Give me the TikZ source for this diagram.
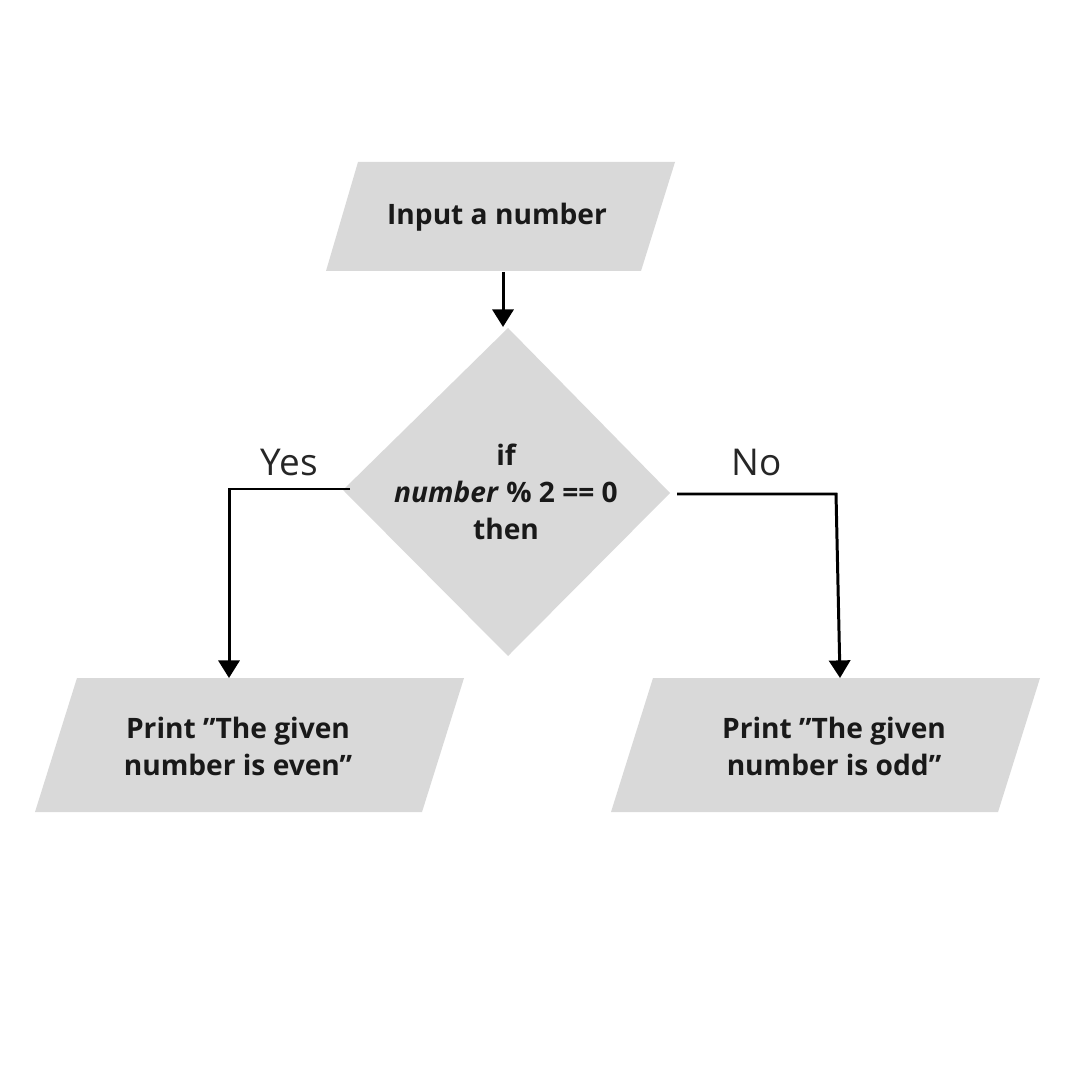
\documentclass[tikz,border=0pt]{standalone}
\usepackage{fontspec}
\setmainfont{Open Sans}
\usetikzlibrary{arrows.meta}
\begin{document}
\begin{tikzpicture}[x=0.01cm,y=-0.01cm,
  shapefill/.style={fill=black!15,draw=none},
  lbl/.style={font=\bfseries\fontsize{8}{10.5}\selectfont,align=center,text=black!90},
  yn/.style={font=\fontsize{10.5}{12}\selectfont,text=black!85},
  conn/.style={line width=0.85pt,-{Triangle[length=5pt,width=6pt]}}]
\useasboundingbox (0,0) rectangle (1080,1080);
\fill[white] (0,0) rectangle (1080,1080);
% shapes
\fill[shapefill] (358,162) -- (675,162) -- (641,271) -- (326,271) -- cycle;
\fill[shapefill] (508,328) -- (670,493) -- (508,656) -- (343,490) -- cycle;
\fill[shapefill] (77,678) -- (464,678) -- (422,812) -- (35,812) -- cycle;
\fill[shapefill] (653,678) -- (1040,678) -- (998,812) -- (611,812) -- cycle;
% texts
\node[lbl] (inp) at (497,217) {Input a number};
\node[lbl] (cond) at (506,492) {if\\\textit{number} \% 2 == 0\\then};
\node[lbl] (even) at (238,746) {Print "The given\\number is even"};
\node[lbl] (odd) at (834,746) {Print "The given\\number is odd"};
\node[yn] (yes) at (289,463) {Yes};
\node[yn] (no) at (757,463) {No};
% connector points
\coordinate (a1) at (503,272);
\coordinate (a2) at (503,327);
\coordinate (dl) at (350,489);
\coordinate (ylc) at (229,489);
\coordinate (ye) at (229,678);
\coordinate (dr) at (677,494);
\coordinate (nrc) at (836,494);
\coordinate (ne) at (840,678);
\draw[conn] (a1) -- (a2);
\draw[conn] (dl) -- (ylc) -- (ye);
\draw[conn] (dr) -- (nrc) -- (ne);
\end{tikzpicture}
\end{document}
